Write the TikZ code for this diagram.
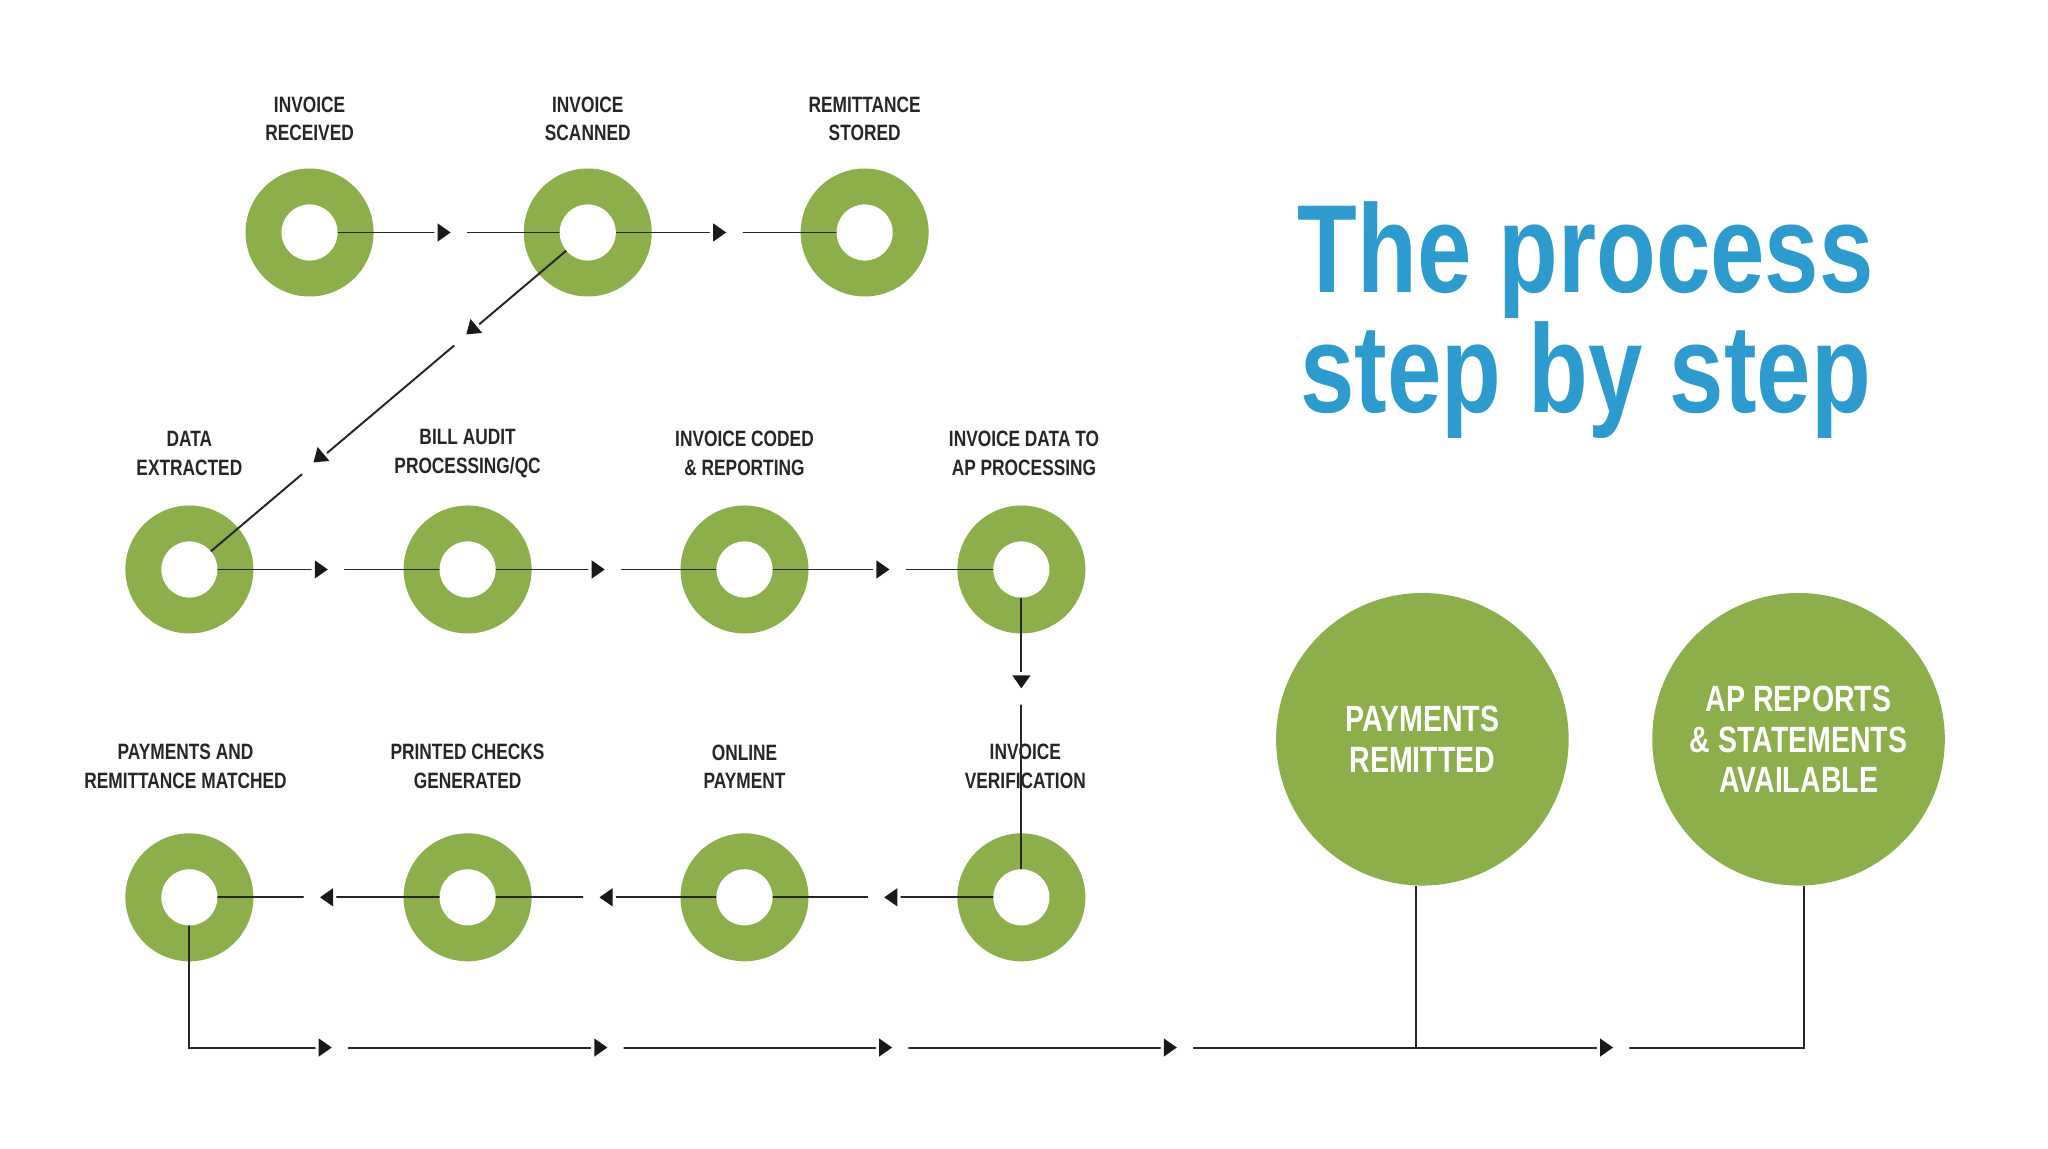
\documentclass[tikz,border=0pt]{standalone}
\usepackage{fontspec}
\setmainfont{Liberation Sans}[FakeStretch=0.78]
\usetikzlibrary{calc}
\definecolor{grn}{HTML}{8CAE4B}
\definecolor{ttl}{HTML}{2E9BCF}
\begin{document}
\begin{tikzpicture}[x=1pt,y=-1pt,
  ring/.style={circle,fill=grn,minimum size=98pt,inner sep=0pt},
  hole/.style={circle,fill=white,minimum size=43pt,inner sep=0pt},
  big/.style={circle,fill=grn,minimum size=224pt,inner sep=0pt,text=white,align=center,font=\fontsize{28}{31}\selectfont\bfseries},
  lab/.style={align=center,font=\fontsize{17}{22}\selectfont\bfseries,text=black!85},
  ln/.style={line width=1.5pt,black!85},
  gap/.style={circle,fill=white,minimum size=25pt,inner sep=0pt}]
\useasboundingbox (0,0) rectangle (1568,879);
\newcommand\tri[2]{\node[gap] at (#1) {};\fill[black!90,rotate around={#2:(#1)}] (#1) -- ++(-10,7) -- ++(0,-14) -- cycle;}
% rings
\foreach \n/\x/\y in {a1/237/178,a2/450/178,a3/662/178,b1/145/436,b2/358/436,b3/570/436,b4/782/436,c1/145/687,c2/358/687,c3/570/687,c4/782/687}{
  \node[ring] (\n) at (\x,\y) {};}
\node[big] (p1) at (1089,566) {PAYMENTS\\REMITTED};
\node[big] (p2) at (1377,566) {AP REPORTS\\\& STATEMENTS\\AVAILABLE};
% labels
\node[lab] (la1) at (237,91) {INVOICE\\RECEIVED};
\node[lab] (la2) at (450,91) {INVOICE\\SCANNED};
\node[lab] (la3) at (662,91) {REMITTANCE\\STORED};
\node[lab] (lb1) at (145,347) {DATA\\EXTRACTED};
\node[lab] (lb2) at (358,347) {BILL AUDIT\\PROCESSING/QC};
\node[lab] (lb3) at (570,347) {INVOICE CODED\\\& REPORTING};
\node[lab] (lb4) at (784,347) {INVOICE DATA TO\\AP PROCESSING};
\node[lab] (lc1) at (142,587) {PAYMENTS AND\\REMITTANCE MATCHED};
\node[lab] (lc2) at (358,587) {PRINTED CHECKS\\GENERATED};
\node[lab] (lc3) at (570,587) {ONLINE\\PAYMENT};
\node[lab] (lc4) at (785,587) {INVOICE\\VERIFICATION};
\node[text=ttl,font=\fontsize{96}{96}\selectfont\bfseries,align=center] (title) at (1214,245) {The process\\[-4pt]step by step};
% connectors
\coordinate (b0) at (145,802);
\coordinate (j) at (1084,802);
\coordinate (e) at (1381,802);
\draw[ln] (a1.center) -- (a2.center) -- (a3.center);
\draw[ln] (a2.center) -- (b1.center);
\draw[ln] (b1.center) -- (b2.center) -- (b3.center) -- (b4.center) -- (c4.center) -- (c3.center) -- (c2.center) -- (c1.center) -- (b0) -- (e) -- (e |- p2.south);
\draw[ln] (j) -- (j |- p1.south);
% holes
\foreach \n in {a1,a2,a3,b1,b2,b3,b4,c1,c2,c3,c4}{\node[hole] at (\n) {};}
% arrowheads
\coordinate (t1) at (345,178); \tri{t1}{0}
\coordinate (t2) at (556,178); \tri{t2}{0}
\coordinate (t3) at (357,256); \tri{t3}{220.2}
\coordinate (t4) at (240,354); \tri{t4}{220.2}
\coordinate (t5) at (251,436); \tri{t5}{0}
\coordinate (t6) at (463,436); \tri{t6}{0}
\coordinate (t7) at (681,436); \tri{t7}{0}
\coordinate (t8) at (782,527); \tri{t8}{-90}
\coordinate (t9) at (677,687); \tri{t9}{180}
\coordinate (t10) at (459,687); \tri{t10}{180}
\coordinate (t11) at (245,687); \tri{t11}{180}
\coordinate (t12) at (254,802); \tri{t12}{0}
\coordinate (t13) at (465,802); \tri{t13}{0}
\coordinate (t14) at (683,802); \tri{t14}{0}
\coordinate (t15) at (901,802); \tri{t15}{0}
\coordinate (t16) at (1235,802); \tri{t16}{0}
\end{tikzpicture}
\end{document}
